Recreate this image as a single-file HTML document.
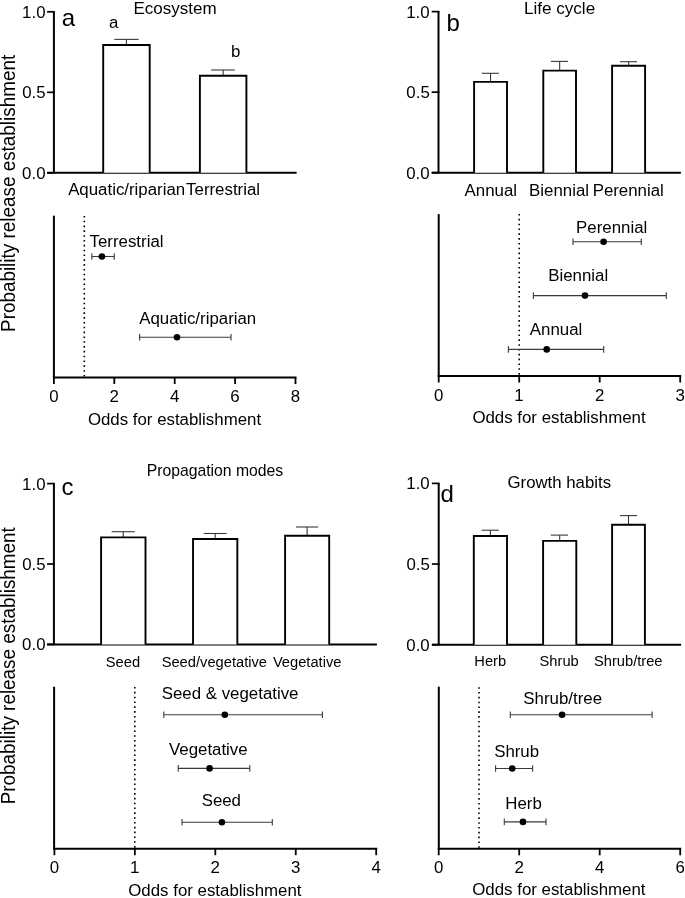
<!DOCTYPE html>
<html><head><meta charset="utf-8"><title>Figure</title>
<style>
html,body{margin:0;padding:0;background:#fff;}
svg{display:block;}
text{font-family:"Liberation Sans",Arial,sans-serif;fill:#000;}
</style></head><body>
<svg width="685" height="898" viewBox="0 0 685 898">
<rect width="685" height="898" fill="#fff"/>
<line x1="53.90" y1="11.80" x2="53.90" y2="172.85" stroke="#000" stroke-width="2.0" />
<line x1="47.10" y1="11.80" x2="54.90" y2="11.80" stroke="#000" stroke-width="1.7" />
<text x="22.12" y="17.80" font-size="16.85" text-anchor="start" >1.0</text>
<line x1="47.10" y1="92.33" x2="54.90" y2="92.33" stroke="#000" stroke-width="1.7" />
<text x="22.25" y="98.33" font-size="16.85" text-anchor="start" >0.5</text>
<line x1="47.10" y1="172.85" x2="54.90" y2="172.85" stroke="#000" stroke-width="1.7" />
<text x="22.12" y="178.85" font-size="16.85" text-anchor="start" >0.0</text>
<line x1="47.10" y1="172.85" x2="296.60" y2="172.85" stroke="#000" stroke-width="2.0" />
<line x1="126.45" y1="45.00" x2="126.45" y2="39.40" stroke="#3a3a3a" stroke-width="1.1" />
<line x1="114.30" y1="39.40" x2="138.60" y2="39.40" stroke="#3a3a3a" stroke-width="1.1" />
<path d="M103.2 172.85 V45.0 H149.7 V172.85" fill="#fff" stroke="#000" stroke-width="1.9"/>
<line x1="223.15" y1="75.70" x2="223.15" y2="70.00" stroke="#3a3a3a" stroke-width="1.1" />
<line x1="211.10" y1="70.00" x2="234.90" y2="70.00" stroke="#3a3a3a" stroke-width="1.1" />
<path d="M199.9 172.85 V75.7 H246.4 V172.85" fill="#fff" stroke="#000" stroke-width="1.9"/>
<text x="61.70" y="25.90" font-size="24" text-anchor="start" >a</text>
<text x="109.05" y="27.80" font-size="16.85" text-anchor="start" >a</text>
<text x="231.07" y="56.80" font-size="16.85" text-anchor="start" >b</text>
<text x="133.53" y="14.40" font-size="17.0" text-anchor="start" >Ecosystem</text>
<text x="68.14" y="194.80" font-size="16.85" text-anchor="start" >Aquatic/riparian</text>
<text x="186.11" y="194.80" font-size="16.85" text-anchor="start" >Terrestrial</text>
<line x1="53.90" y1="215.70" x2="53.90" y2="377.50" stroke="#000" stroke-width="2.0" />
<line x1="52.90" y1="377.50" x2="296.50" y2="377.50" stroke="#000" stroke-width="2.0" />
<line x1="53.90" y1="377.50" x2="53.90" y2="384.00" stroke="#000" stroke-width="1.8" />
<text x="49.21" y="401.70" font-size="16.85" text-anchor="start" >0</text>
<line x1="114.30" y1="377.50" x2="114.30" y2="384.00" stroke="#000" stroke-width="1.8" />
<text x="109.61" y="401.70" font-size="16.85" text-anchor="start" >2</text>
<line x1="174.70" y1="377.50" x2="174.70" y2="384.00" stroke="#000" stroke-width="1.8" />
<text x="170.07" y="401.70" font-size="16.85" text-anchor="start" >4</text>
<line x1="235.10" y1="377.50" x2="235.10" y2="384.00" stroke="#000" stroke-width="1.8" />
<text x="230.35" y="401.70" font-size="16.85" text-anchor="start" >6</text>
<line x1="295.50" y1="377.50" x2="295.50" y2="384.00" stroke="#000" stroke-width="1.8" />
<text x="290.81" y="401.70" font-size="16.85" text-anchor="start" >8</text>
<line x1="84.30" y1="215.90" x2="84.30" y2="377.50" stroke="#000" stroke-width="1.6" stroke-dasharray="1.6 3.22"/>
<text x="89.58" y="246.60" font-size="16.85" text-anchor="start" >Terrestrial</text>
<line x1="91.85" y1="256.50" x2="114.25" y2="256.50" stroke="#3a3a3a" stroke-width="1.1" />
<line x1="91.85" y1="253.20" x2="91.85" y2="259.80" stroke="#3a3a3a" stroke-width="1.1" />
<line x1="114.25" y1="253.20" x2="114.25" y2="259.80" stroke="#3a3a3a" stroke-width="1.1" />
<circle cx="101.9" cy="256.5" r="3.3" fill="#000"/>
<text x="139.20" y="323.80" font-size="16.85" text-anchor="start" >Aquatic/riparian</text>
<line x1="139.60" y1="337.30" x2="231.00" y2="337.30" stroke="#3a3a3a" stroke-width="1.1" />
<line x1="139.60" y1="334.00" x2="139.60" y2="340.60" stroke="#3a3a3a" stroke-width="1.1" />
<line x1="231.00" y1="334.00" x2="231.00" y2="340.60" stroke="#3a3a3a" stroke-width="1.1" />
<circle cx="177.0" cy="337.3" r="3.3" fill="#000"/>
<text x="87.88" y="424.80" font-size="16.85" text-anchor="start" >Odds for establishment</text>
<line x1="438.50" y1="11.60" x2="438.50" y2="172.70" stroke="#000" stroke-width="2.0" />
<line x1="431.70" y1="11.60" x2="439.50" y2="11.60" stroke="#000" stroke-width="1.7" />
<text x="406.23" y="17.60" font-size="16.85" text-anchor="start" >1.0</text>
<line x1="431.70" y1="92.15" x2="439.50" y2="92.15" stroke="#000" stroke-width="1.7" />
<text x="406.35" y="98.15" font-size="16.85" text-anchor="start" >0.5</text>
<line x1="431.70" y1="172.70" x2="439.50" y2="172.70" stroke="#000" stroke-width="1.7" />
<text x="406.23" y="178.70" font-size="16.85" text-anchor="start" >0.0</text>
<line x1="431.70" y1="172.70" x2="680.90" y2="172.70" stroke="#000" stroke-width="2.0" />
<line x1="490.55" y1="81.90" x2="490.55" y2="73.30" stroke="#3a3a3a" stroke-width="1.1" />
<line x1="481.80" y1="73.30" x2="499.00" y2="73.30" stroke="#3a3a3a" stroke-width="1.1" />
<path d="M474.1 172.7 V81.9 H507.0 V172.7" fill="#fff" stroke="#000" stroke-width="1.9"/>
<line x1="559.65" y1="70.60" x2="559.65" y2="61.40" stroke="#3a3a3a" stroke-width="1.1" />
<line x1="550.80" y1="61.40" x2="568.00" y2="61.40" stroke="#3a3a3a" stroke-width="1.1" />
<path d="M543.3 172.7 V70.6 H576.0 V172.7" fill="#fff" stroke="#000" stroke-width="1.9"/>
<line x1="628.60" y1="65.80" x2="628.60" y2="61.70" stroke="#3a3a3a" stroke-width="1.1" />
<line x1="619.90" y1="61.70" x2="637.00" y2="61.70" stroke="#3a3a3a" stroke-width="1.1" />
<path d="M612.1 172.7 V65.8 H645.1 V172.7" fill="#fff" stroke="#000" stroke-width="1.9"/>
<text x="446.60" y="31.00" font-size="24" text-anchor="start" >b</text>
<text x="523.92" y="13.70" font-size="17.1" text-anchor="start" >Life cycle</text>
<text x="464.61" y="195.50" font-size="16.85" text-anchor="start" >Annual</text>
<text x="529.08" y="195.50" font-size="16.85" text-anchor="start" >Biennial</text>
<text x="592.65" y="195.50" font-size="16.85" text-anchor="start" >Perennial</text>
<line x1="438.70" y1="214.10" x2="438.70" y2="376.00" stroke="#000" stroke-width="2.0" />
<line x1="437.70" y1="376.00" x2="681.20" y2="376.00" stroke="#000" stroke-width="2.0" />
<line x1="438.70" y1="376.00" x2="438.70" y2="382.50" stroke="#000" stroke-width="1.8" />
<text x="434.01" y="400.80" font-size="16.85" text-anchor="start" >0</text>
<line x1="519.20" y1="376.00" x2="519.20" y2="382.50" stroke="#000" stroke-width="1.8" />
<text x="514.33" y="400.80" font-size="16.85" text-anchor="start" >1</text>
<line x1="599.70" y1="376.00" x2="599.70" y2="382.50" stroke="#000" stroke-width="1.8" />
<text x="595.01" y="400.80" font-size="16.85" text-anchor="start" >2</text>
<line x1="680.20" y1="376.00" x2="680.20" y2="382.50" stroke="#000" stroke-width="1.8" />
<text x="675.58" y="400.80" font-size="16.85" text-anchor="start" >3</text>
<line x1="519.20" y1="214.00" x2="519.20" y2="376.00" stroke="#000" stroke-width="1.6" stroke-dasharray="1.6 3.22"/>
<text x="576.12" y="233.40" font-size="16.85" text-anchor="start" >Perennial</text>
<line x1="573.00" y1="241.80" x2="641.30" y2="241.80" stroke="#3a3a3a" stroke-width="1.1" />
<line x1="573.00" y1="238.50" x2="573.00" y2="245.10" stroke="#3a3a3a" stroke-width="1.1" />
<line x1="641.30" y1="238.50" x2="641.30" y2="245.10" stroke="#3a3a3a" stroke-width="1.1" />
<circle cx="603.6" cy="241.8" r="3.3" fill="#000"/>
<text x="548.23" y="280.80" font-size="16.85" text-anchor="start" >Biennial</text>
<line x1="533.40" y1="295.60" x2="666.30" y2="295.60" stroke="#3a3a3a" stroke-width="1.1" />
<line x1="533.40" y1="292.30" x2="533.40" y2="298.90" stroke="#3a3a3a" stroke-width="1.1" />
<line x1="666.30" y1="292.30" x2="666.30" y2="298.90" stroke="#3a3a3a" stroke-width="1.1" />
<circle cx="585.0" cy="295.6" r="3.3" fill="#000"/>
<text x="529.80" y="334.50" font-size="16.85" text-anchor="start" >Annual</text>
<line x1="508.40" y1="349.40" x2="603.70" y2="349.40" stroke="#3a3a3a" stroke-width="1.1" />
<line x1="508.40" y1="346.10" x2="508.40" y2="352.70" stroke="#3a3a3a" stroke-width="1.1" />
<line x1="603.70" y1="346.10" x2="603.70" y2="352.70" stroke="#3a3a3a" stroke-width="1.1" />
<circle cx="546.7" cy="349.4" r="3.3" fill="#000"/>
<text x="472.38" y="423.00" font-size="16.85" text-anchor="start" >Odds for establishment</text>
<line x1="53.90" y1="483.60" x2="53.90" y2="644.40" stroke="#000" stroke-width="2.0" />
<line x1="47.10" y1="483.60" x2="54.90" y2="483.60" stroke="#000" stroke-width="1.7" />
<text x="22.12" y="489.60" font-size="16.85" text-anchor="start" >1.0</text>
<line x1="47.10" y1="564.00" x2="54.90" y2="564.00" stroke="#000" stroke-width="1.7" />
<text x="22.25" y="570.00" font-size="16.85" text-anchor="start" >0.5</text>
<line x1="47.10" y1="644.40" x2="54.90" y2="644.40" stroke="#000" stroke-width="1.7" />
<text x="22.12" y="650.40" font-size="16.85" text-anchor="start" >0.0</text>
<line x1="47.10" y1="644.40" x2="376.90" y2="644.40" stroke="#000" stroke-width="2.0" />
<line x1="123.30" y1="537.40" x2="123.30" y2="531.70" stroke="#3a3a3a" stroke-width="1.1" />
<line x1="111.70" y1="531.70" x2="134.60" y2="531.70" stroke="#3a3a3a" stroke-width="1.1" />
<path d="M101.1 644.4 V537.4 H145.5 V644.4" fill="#fff" stroke="#000" stroke-width="1.9"/>
<line x1="215.20" y1="539.00" x2="215.20" y2="533.50" stroke="#3a3a3a" stroke-width="1.1" />
<line x1="203.80" y1="533.50" x2="226.60" y2="533.50" stroke="#3a3a3a" stroke-width="1.1" />
<path d="M193.05 644.4 V539.0 H237.35 V644.4" fill="#fff" stroke="#000" stroke-width="1.9"/>
<line x1="307.15" y1="535.80" x2="307.15" y2="527.00" stroke="#3a3a3a" stroke-width="1.1" />
<line x1="296.00" y1="527.00" x2="318.10" y2="527.00" stroke="#3a3a3a" stroke-width="1.1" />
<path d="M285.1 644.4 V535.8 H329.2 V644.4" fill="#fff" stroke="#000" stroke-width="1.9"/>
<text x="61.40" y="494.80" font-size="24" text-anchor="start" >c</text>
<text x="146.65" y="476.10" font-size="15.75" text-anchor="start" >Propagation modes</text>
<text x="105.78" y="666.80" font-size="14.7" text-anchor="start" >Seed</text>
<text x="161.66" y="666.80" font-size="14.7" text-anchor="start" >Seed/vegetative</text>
<text x="272.88" y="666.80" font-size="14.7" text-anchor="start" >Vegetative</text>
<line x1="54.10" y1="686.70" x2="54.10" y2="848.70" stroke="#000" stroke-width="2.0" />
<line x1="53.10" y1="848.70" x2="377.20" y2="848.70" stroke="#000" stroke-width="2.0" />
<line x1="54.40" y1="848.70" x2="54.40" y2="855.20" stroke="#000" stroke-width="1.8" />
<text x="49.71" y="872.90" font-size="16.85" text-anchor="start" >0</text>
<line x1="134.85" y1="848.70" x2="134.85" y2="855.20" stroke="#000" stroke-width="1.8" />
<text x="129.97" y="872.90" font-size="16.85" text-anchor="start" >1</text>
<line x1="215.30" y1="848.70" x2="215.30" y2="855.20" stroke="#000" stroke-width="1.8" />
<text x="210.61" y="872.90" font-size="16.85" text-anchor="start" >2</text>
<line x1="295.75" y1="848.70" x2="295.75" y2="855.20" stroke="#000" stroke-width="1.8" />
<text x="291.12" y="872.90" font-size="16.85" text-anchor="start" >3</text>
<line x1="376.20" y1="848.70" x2="376.20" y2="855.20" stroke="#000" stroke-width="1.8" />
<text x="371.57" y="872.90" font-size="16.85" text-anchor="start" >4</text>
<line x1="134.80" y1="687.00" x2="134.80" y2="848.70" stroke="#000" stroke-width="1.6" stroke-dasharray="1.6 3.22"/>
<text x="161.75" y="698.60" font-size="16.85" text-anchor="start" >Seed &amp; vegetative</text>
<line x1="163.80" y1="714.80" x2="322.40" y2="714.80" stroke="#3a3a3a" stroke-width="1.1" />
<line x1="163.80" y1="711.50" x2="163.80" y2="718.10" stroke="#3a3a3a" stroke-width="1.1" />
<line x1="322.40" y1="711.50" x2="322.40" y2="718.10" stroke="#3a3a3a" stroke-width="1.1" />
<circle cx="224.8" cy="714.8" r="3.3" fill="#000"/>
<text x="168.97" y="754.50" font-size="16.85" text-anchor="start" >Vegetative</text>
<line x1="178.20" y1="768.40" x2="249.80" y2="768.40" stroke="#3a3a3a" stroke-width="1.1" />
<line x1="178.20" y1="765.10" x2="178.20" y2="771.70" stroke="#3a3a3a" stroke-width="1.1" />
<line x1="249.80" y1="765.10" x2="249.80" y2="771.70" stroke="#3a3a3a" stroke-width="1.1" />
<circle cx="209.6" cy="768.4" r="3.3" fill="#000"/>
<text x="201.65" y="805.70" font-size="16.85" text-anchor="start" >Seed</text>
<line x1="182.00" y1="822.20" x2="272.30" y2="822.20" stroke="#3a3a3a" stroke-width="1.1" />
<line x1="182.00" y1="818.90" x2="182.00" y2="825.50" stroke="#3a3a3a" stroke-width="1.1" />
<line x1="272.30" y1="818.90" x2="272.30" y2="825.50" stroke="#3a3a3a" stroke-width="1.1" />
<circle cx="221.9" cy="822.2" r="3.3" fill="#000"/>
<text x="128.28" y="896.00" font-size="16.85" text-anchor="start" >Odds for establishment</text>
<line x1="438.70" y1="483.40" x2="438.70" y2="644.70" stroke="#000" stroke-width="2.0" />
<line x1="431.90" y1="483.40" x2="439.70" y2="483.40" stroke="#000" stroke-width="1.7" />
<text x="406.32" y="489.40" font-size="16.85" text-anchor="start" >1.0</text>
<line x1="431.90" y1="564.05" x2="439.70" y2="564.05" stroke="#000" stroke-width="1.7" />
<text x="406.45" y="570.05" font-size="16.85" text-anchor="start" >0.5</text>
<line x1="431.90" y1="644.70" x2="439.70" y2="644.70" stroke="#000" stroke-width="1.7" />
<text x="406.32" y="650.70" font-size="16.85" text-anchor="start" >0.0</text>
<line x1="431.90" y1="644.70" x2="681.10" y2="644.70" stroke="#000" stroke-width="2.0" />
<line x1="490.40" y1="536.00" x2="490.40" y2="530.20" stroke="#3a3a3a" stroke-width="1.1" />
<line x1="481.60" y1="530.20" x2="498.80" y2="530.20" stroke="#3a3a3a" stroke-width="1.1" />
<path d="M473.8 644.7 V536.0 H507.0 V644.7" fill="#fff" stroke="#000" stroke-width="1.9"/>
<line x1="559.70" y1="540.90" x2="559.70" y2="535.10" stroke="#3a3a3a" stroke-width="1.1" />
<line x1="550.80" y1="535.10" x2="568.00" y2="535.10" stroke="#3a3a3a" stroke-width="1.1" />
<path d="M543.1 644.7 V540.9 H576.3 V644.7" fill="#fff" stroke="#000" stroke-width="1.9"/>
<line x1="628.50" y1="524.70" x2="628.50" y2="515.60" stroke="#3a3a3a" stroke-width="1.1" />
<line x1="620.00" y1="515.60" x2="637.00" y2="515.60" stroke="#3a3a3a" stroke-width="1.1" />
<path d="M612.1 644.7 V524.7 H644.9 V644.7" fill="#fff" stroke="#000" stroke-width="1.9"/>
<text x="440.50" y="502.30" font-size="24" text-anchor="start" >d</text>
<text x="507.52" y="487.60" font-size="16.8" text-anchor="start" >Growth habits</text>
<text x="474.29" y="665.60" font-size="14.7" text-anchor="start" >Herb</text>
<text x="539.55" y="665.60" font-size="14.7" text-anchor="start" >Shrub</text>
<text x="593.96" y="665.60" font-size="14.7" text-anchor="start" >Shrub/tree</text>
<line x1="438.80" y1="686.70" x2="438.80" y2="848.80" stroke="#000" stroke-width="2.0" />
<line x1="437.80" y1="848.80" x2="681.20" y2="848.80" stroke="#000" stroke-width="2.0" />
<line x1="438.70" y1="848.80" x2="438.70" y2="855.30" stroke="#000" stroke-width="1.8" />
<text x="434.01" y="873.00" font-size="16.85" text-anchor="start" >0</text>
<line x1="519.20" y1="848.80" x2="519.20" y2="855.30" stroke="#000" stroke-width="1.8" />
<text x="514.51" y="873.00" font-size="16.85" text-anchor="start" >2</text>
<line x1="599.70" y1="848.80" x2="599.70" y2="855.30" stroke="#000" stroke-width="1.8" />
<text x="595.08" y="873.00" font-size="16.85" text-anchor="start" >4</text>
<line x1="680.20" y1="848.80" x2="680.20" y2="855.30" stroke="#000" stroke-width="1.8" />
<text x="675.45" y="873.00" font-size="16.85" text-anchor="start" >6</text>
<line x1="479.00" y1="687.20" x2="479.00" y2="848.80" stroke="#000" stroke-width="1.6" stroke-dasharray="1.6 3.22"/>
<text x="523.35" y="703.70" font-size="16.85" text-anchor="start" >Shrub/tree</text>
<line x1="510.30" y1="714.70" x2="652.10" y2="714.70" stroke="#3a3a3a" stroke-width="1.1" />
<line x1="510.30" y1="711.40" x2="510.30" y2="718.00" stroke="#3a3a3a" stroke-width="1.1" />
<line x1="652.10" y1="711.40" x2="652.10" y2="718.00" stroke="#3a3a3a" stroke-width="1.1" />
<circle cx="562.1" cy="714.7" r="3.3" fill="#000"/>
<text x="494.15" y="757.20" font-size="16.85" text-anchor="start" >Shrub</text>
<line x1="495.60" y1="768.50" x2="532.60" y2="768.50" stroke="#3a3a3a" stroke-width="1.1" />
<line x1="495.60" y1="765.20" x2="495.60" y2="771.80" stroke="#3a3a3a" stroke-width="1.1" />
<line x1="532.60" y1="765.20" x2="532.60" y2="771.80" stroke="#3a3a3a" stroke-width="1.1" />
<circle cx="512.2" cy="768.5" r="3.3" fill="#000"/>
<text x="505.32" y="808.70" font-size="16.85" text-anchor="start" >Herb</text>
<line x1="504.30" y1="821.90" x2="546.00" y2="821.90" stroke="#3a3a3a" stroke-width="1.1" />
<line x1="504.30" y1="818.60" x2="504.30" y2="825.20" stroke="#3a3a3a" stroke-width="1.1" />
<line x1="546.00" y1="818.60" x2="546.00" y2="825.20" stroke="#3a3a3a" stroke-width="1.1" />
<circle cx="523.0" cy="821.9" r="3.3" fill="#000"/>
<text x="472.27" y="895.00" font-size="16.85" text-anchor="start" >Odds for establishment</text>
<text x="0" y="0" font-size="18.9" text-anchor="middle" transform="translate(15.05 193.4) rotate(-90) scale(1 1.035)">Probability release establishment</text>
<text x="0" y="0" font-size="18.9" text-anchor="middle" transform="translate(15.05 665.75) rotate(-90) scale(1 1.035)">Probability release establishment</text>
</svg>
</body></html>
